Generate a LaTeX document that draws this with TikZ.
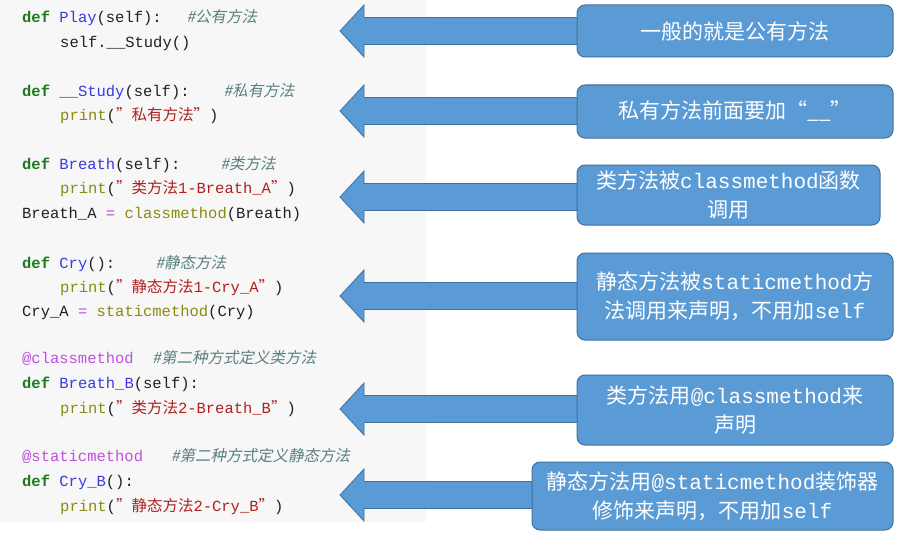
\documentclass[tikz,border=0pt]{standalone}
\usepackage{fontspec}
\setmainfont{Liberation Mono}
\newfontfamily\cjk{Noto Sans CJK SC}
\newfontfamily\cjksl[FakeSlant=0.2]{Noto Sans CJK SC}
\usetikzlibrary{positioning}
\definecolor{kw}{HTML}{1E7A1E}
\definecolor{fn}{HTML}{3A3AE0}
\definecolor{pr}{HTML}{8A8A10}
\definecolor{st}{HTML}{B02020}
\definecolor{dc}{HTML}{C050E0}
\definecolor{cm}{HTML}{5A8080}
\definecolor{tx}{HTML}{202020}
\definecolor{bfill}{HTML}{5B9BD5}
\definecolor{bline}{HTML}{41719C}
\newcommand{\Kw}[1]{\textcolor{kw}{\bfseries #1}}
\newcommand{\Fn}[1]{\textcolor{fn}{#1}}
\newcommand{\Pt}[1]{\textcolor{pr}{#1}}
\newcommand{\Sg}[1]{\textcolor{st}{#1}}
\newcommand{\Dc}[1]{\textcolor{dc}{#1}}
\newcommand{\Cm}[1]{\textcolor{cm}{{\cjksl #1}}}
\newcommand{\Zh}[1]{{\cjk #1}}
\tikzset{
 code/.style={anchor=base west,inner sep=0,font=\fontsize{15.5}{15}\selectfont,text=tx},
 note/.style={draw=bline,fill=bfill,rounded corners=8pt,line width=1pt,text=white,align=center,font=\fontsize{21}{29}\selectfont,inner sep=2pt},
 arr/.style={draw=bline,fill=bfill,line width=0.8pt}
}
\newcommand{\arrowat}[1]{\draw[arr] (340,#1) -- (364,#1-26) -- (364,#1-13.5) -- (600,#1-13.5) -- (600,#1+13.5) -- (364,#1+13.5) -- (364,#1+26) -- cycle;}
\begin{document}
\begin{tikzpicture}[x=1pt,y=-1pt]
\useasboundingbox (0,0) rectangle (913,535);
\fill[white] (0,0) rectangle (913,535);
\fill[black!3] (0,0) rectangle (426,522);
% code
\node[code] (l1) at (22,23) {\Kw{def} \Fn{Play}(self):\quad\ \Cm{\#公有方法}};
\node[code] (l2) at (60,48) {self.\_\_Study()};
\node[code] (l3) at (22,96) {\Kw{def} \Fn{\_\_Study}(self):\quad\ \ \Cm{\#私有方法}};
\node[code] (l4) at (60,121) {\Pt{print}(\Sg{\Zh{”私有方法”}})};
\node[code] (l5) at (22,169) {\Kw{def} \Fn{Breath}(self):\qquad\ \Cm{\#类方法}};
\node[code] (l6) at (60,193) {\Pt{print}(\Sg{\Zh{”类方法}1-Breath\_A\Zh{”}})};
\node[code] (l7) at (22,218) {Breath\_A \Dc{=} \Pt{classmethod}(Breath)};
\node[code] (l8) at (22,268) {\Kw{def} \Fn{Cry}():\qquad\ \Cm{\#静态方法}};
\node[code] (l9) at (60,292) {\Pt{print}(\Sg{\Zh{”静态方法}1-Cry\_A\Zh{”}})};
\node[code] (l10) at (22,316) {Cry\_A \Dc{=} \Pt{staticmethod}(Cry)};
\node[code] (l11) at (22,363) {\Dc{@classmethod}\ \ \Cm{\#第二种方式定义类方法}};
\node[code] (l12) at (22,388) {\Kw{def} \Fn{Breath\_B}(self):};
\node[code] (l13) at (60,413) {\Pt{print}(\Sg{\Zh{”类方法}2-Breath\_B\Zh{”}})};
\node[code] (l14) at (22,461) {\Dc{@staticmethod}\ \ \ \Cm{\#第二种方式定义静态方法}};
\node[code] (l15) at (22,486) {\Kw{def} \Fn{Cry\_B}():};
\node[code] (l16) at (60,511) {\Pt{print}(\Sg{\Zh{”静态方法}2-Cry\_B\Zh{”}})};
% arrows
\arrowat{31}
\arrowat{111}
\arrowat{197}
\arrowat{296}
\arrowat{409}
\arrowat{495}
% notes
\node[note,minimum width=316pt,minimum height=52pt] (n1) at (735,31) {\Zh{一般的就是公有方法}};
\node[note,minimum width=316pt,minimum height=53pt] (n2) at (735,111.5) {\Zh{私有方法前面要加“\_\_”}};
\node[note,minimum width=303pt,minimum height=60pt] (n3) at (728.5,195) {\Zh{类方法被}classmethod\Zh{函数}\\\Zh{调用}};
\node[note,minimum width=316pt,minimum height=87pt] (n4) at (735,296.5) {\Zh{静态方法被}staticmethod\Zh{方}\\\Zh{法调用来声明，不用加}self};
\node[note,minimum width=316pt,minimum height=70pt] (n5) at (735,410) {\Zh{类方法用}@classmethod\Zh{来}\\\Zh{声明}};
\node[note,minimum width=361pt,minimum height=68pt] (n6) at (712.5,496) {\Zh{静态方法用}@staticmethod\Zh{装饰器}\\\Zh{修饰来声明，不用加}self};
\end{tikzpicture}
\end{document}
